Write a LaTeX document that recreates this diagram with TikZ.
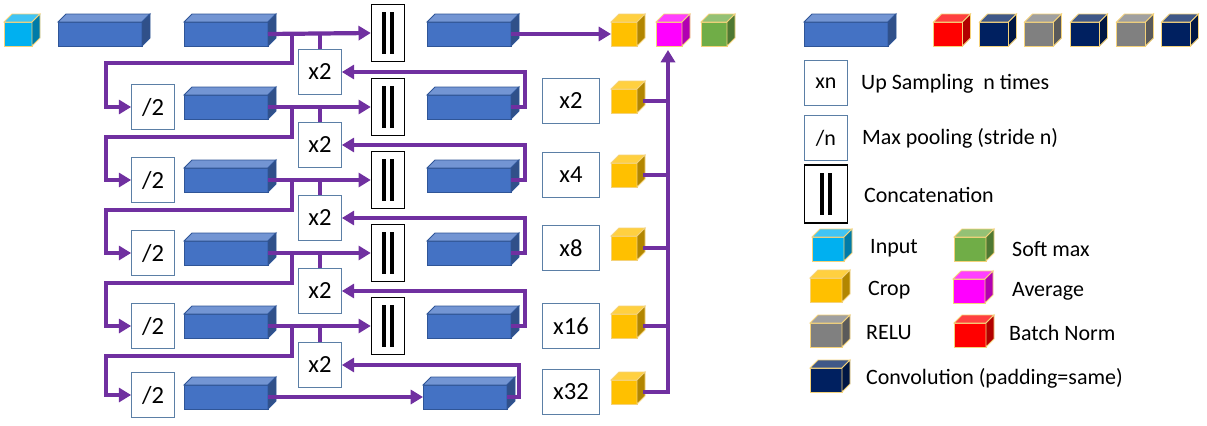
\documentclass[tikz,border=0pt]{standalone}
\usepackage{fontspec}
\setmainfont{Carlito}
\usetikzlibrary{arrows.meta}
\definecolor{blk}{HTML}{4472C4}
\definecolor{blkb}{HTML}{2F5597}
\definecolor{pur}{HTML}{7030A0}
\definecolor{cyanc}{HTML}{00B0F0}
\definecolor{cropc}{HTML}{FFC000}
\definecolor{magc}{HTML}{FF00FF}
\definecolor{grnc}{HTML}{70AD47}
\definecolor{redc}{HTML}{FF0000}
\definecolor{navc}{HTML}{002060}
\definecolor{gryc}{HTML}{808080}
\definecolor{ybord}{HTML}{F4D27A}
\definecolor{boxb}{HTML}{5B7FA6}
\newcommand\mycube[7]{%
\node[draw=#7,fill=#6,minimum width=#4*0.02cm,minimum height=#5*0.02cm,inner sep=0,outer sep=0,line width=0.5pt] (#1) at (#2,#3) {};
\filldraw[fill=#6!75!white,draw=#7,line width=0.5pt] (#1.north west) -- ++(8,-8) -- ++(#4,0) -- (#1.north east) -- cycle;
\filldraw[fill=#6!70!black,draw=#7,line width=0.5pt] (#1.north east) -- ++(8,-8) -- ++(0,#5) -- (#1.south east) -- cycle;}
\newcommand\myblock[3]{\mycube{#1}{#2}{#3}{84}{24}{blk}{blkb}}
\begin{document}
\begin{tikzpicture}[x=0.02cm,y=-0.02cm,
  ln/.style={pur,line width=2.4pt},
  ar/.style={ln,-{Triangle[length=7pt,width=8pt]}},
  ub/.style={draw=boxb,fill=white,minimum width=43*0.02cm,minimum height=45*0.02cm,inner sep=0,font=\fontsize{14pt}{14pt}\selectfont},
  cb/.style={draw=black,line width=0.8pt,fill=white,minimum width=33*0.02cm,minimum height=57*0.02cm,inner sep=0},
  lt/.style={anchor=west,font=\fontsize{12.5pt}{13pt}\selectfont}]
\useasboundingbox (0,0) rectangle (1207,426);
\newcommand\bars{\tikz[x=0.02cm,y=-0.02cm]{\fill[black] (0,0) rectangle (4,42); \fill[black] (8,0) rectangle (12,42);}}
% top row
\mycube{in}{18}{34}{28}{24}{cyanc}{ybord}
\myblock{b00}{100}{34}
\myblock{a0}{226}{34}
\node[cb] (c0) at (388,33) {\bars};
\myblock{b0}{469}{34}
\mycube{cr0}{624}{34}{26}{24}{cropc}{ybord}
\mycube{mg}{669}{34}{26}{24}{magc}{ybord}
\mycube{gr}{714}{34}{26}{24}{grnc}{ybord}
% rows
\foreach \i/\r in {1/107,2/180,3/253,4/326}{
  \node[ub] (p\i) at (153,\r) {/2};
  \myblock{a\i}{226}{\r}
  \node[cb] (c\i) at (388,\r) {\bars};
  \myblock{b\i}{469}{\r}
}
\node[ub] (p5) at (153,395) {/2};
\myblock{a5}{226}{397}
\myblock{b5}{465}{397}
\foreach \i/\y in {1/72,2/145,3/218,4/291,5/365}{\node[ub] (u\i) at (320,\y) {x2};}
\foreach \i/\y/\t in {1/101/x2,2/175/x4,3/248/x8,4/326/x16,5/392/x32}{
  \node[ub,minimum width=57*0.02cm] (s\i) at (571,\y) {\t};
  \mycube{cr\i}{624}{\y}{26}{24}{cropc}{ybord}
}
% connectors
\foreach \i/\r/\n in {0/33/1,1/107/2,2/180/3,3/253/4,4/326/5}{
  \draw[ar] (a\i.east) -- (c\i.west);
  \draw[ar] (292,\r) -- (292,\r+30) -- (106,\r+30) |- (p\n.west);
  \draw[ln] (u\n.north) -- (u\n.north |- a\i.east);
}
\foreach \i in {1,2,3,4}{
  \draw[ar] (b\i.east) -- ++(14,0) |- (u\i.east);
}
\draw[ar] (a5.east) -- (b5.west);
\draw[ar] (b5.east) -- ++(12,0) |- (u5.east);
\draw[ar] (b0.east) -- (cr0.west);
\foreach \i in {1,...,5}{\draw[ln] ([xshift=6*0.02cm]cr\i.east) -- (668,0 |- cr\i.east);}
\draw[ar] (668,394) -- (668,50);
% legend
\myblock{lb}{846}{34}
\foreach \n/\x/\c in {l1/948/redc,l2/994/navc,l3/1039/gryc,l4/1085/navc,l5/1131/gryc,l6/1176/navc}{\mycube{\n}{\x}{34}{29}{24}{\c}{ybord}}
\node[ub,font=\fontsize{12.5pt}{13pt}\selectfont] (lx) at (826,83) {xn};
\node[lt] (tx) at (855,84) {Up Sampling~~n times};
\node[ub,font=\fontsize{12.5pt}{13pt}\selectfont] (lp) at (826,138) {/n};
\node[lt] (tp) at (856,138) {Max pooling (stride n)};
\node[cb,minimum width=43*0.02cm,minimum height=58*0.02cm] (lc) at (826,194) {\bars};
\node[lt] (tc) at (858,195) {Concatenation};
\mycube{li}{828}{249}{32}{24}{cyanc}{ybord}
\node[lt] (ti) at (864,248) {Input};
\mycube{ls}{970}{249}{32}{24}{grnc}{ybord}
\node[lt] (ts) at (1006,249) {Soft max};
\mycube{lcr}{826}{290}{32}{24}{cropc}{ybord}
\node[lt] (tcr) at (862,290) {Crop};
\mycube{lav}{969}{291}{32}{24}{magc}{ybord}
\node[lt] (tav) at (1006,291) {Average};
\mycube{lre}{826}{335}{32}{24}{gryc}{ybord}
\node[lt] (tre) at (860,333) {RELU};
\mycube{lbn}{970}{335}{32}{24}{redc}{ybord}
\node[lt] (tbn) at (1003,333) {Batch Norm};
\mycube{lcv}{826}{380}{32}{24}{navc}{ybord}
\node[lt] (tcv) at (860,378) {Convolution (padding=same)};
\end{tikzpicture}
\end{document}
